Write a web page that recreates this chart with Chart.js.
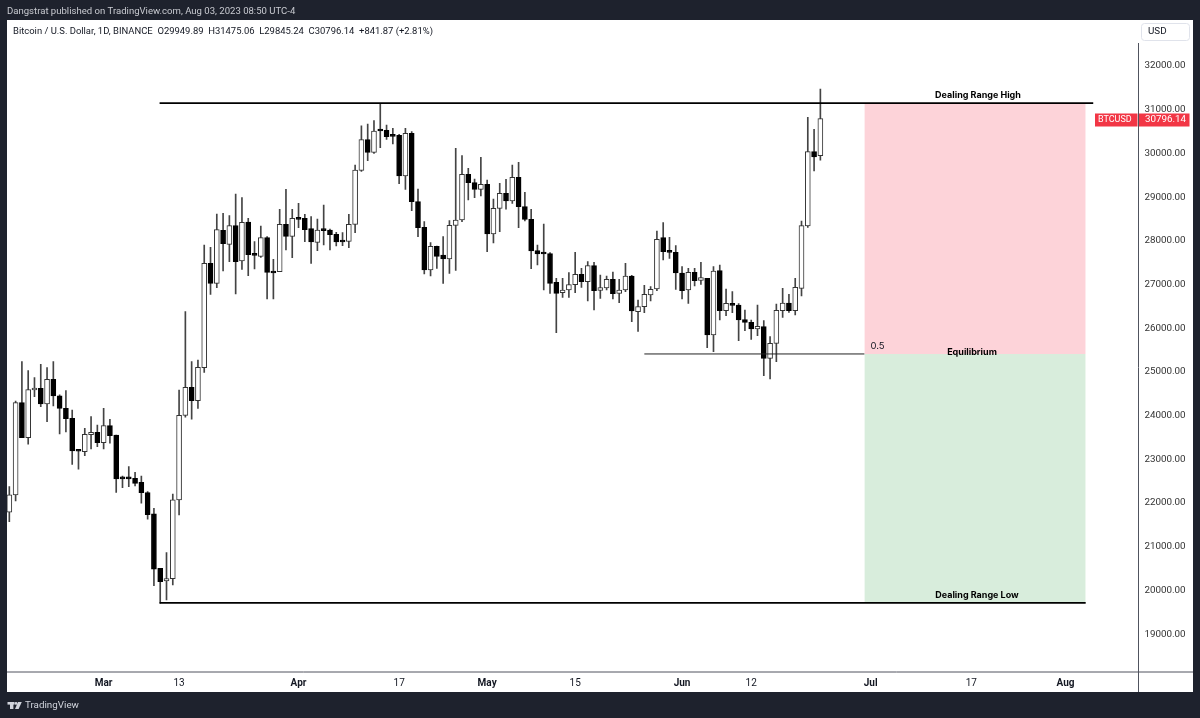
<!DOCTYPE html>
<html lang="en">
<head>
<meta charset="UTF-8">
<title>Bitcoin / U.S. Dollar</title>
<script src="https://cdn.jsdelivr.net/npm/chart.js"></script>
<style>
    html, body { margin: 0; padding: 0; background: #1e222d; }
    canvas { display: block; }
</style>
</head>
<body>
<canvas id="chart" width="1200" height="718"></canvas>
<script>
// daily candles, Feb 14 to Jun 23 2023
const opens = [21788,22185,24297,23496,24587,24625,24267,24831,24450,24167,23939,23206,23176,23565,23618,23382,23771,23557,22566,22566,
    22566,22474,22238,21750,20507,20217,20270,22070,24007,24648,24343,25097,27484,27027,28239,27919,28346,27538,28430,27690,
    27645,28072,27286,27294,28377,28102,28514,28514,28278,27965,28247,28247,28148,27995,27988,28377,29612,30314,30024,30528,
    30528,30406,30413,29483,30459,28895,28308,27332,27873,27675,27584,28354,28476,29521,29330,29178,29292,28156,28743,29086,
    28911,29452,28781,28491,27775,27713,27706,27050,26814,26875,26997,27233,27065,27431,26867,26920,27119,26798,26875,27195,
    26379,26493,26760,26897,28072,27752,27736,27263,26875,27279,27096,27141,25845,27317,26402,26554,26531,26196,26134,25982,
    26036,25311,25654,26402,26577,26402,26913,28339,30040,29949.89];
const highs = [22375,24335,25235,25029,24869,25174,25098,25235,24473,24572,24129,23229,23710,23977,23786,24167,23916,23557,22619,22833,
    22703,22619,22261,21879,20507,20865,22207,24587,26378,25235,25273,27904,27850,28613,28628,28575,29071,28987,28514,27980,
    28339,28095,27576,28720,29178,28720,28857,28606,28552,28499,28819,28270,28194,28186,28606,29734,30634,30672,30749,31145,
    30650,30573,30436,30573,30497,29185,28438,27957,27881,28095,28461,30116,29948,29658,29414,29910,29391,28956,29315,29406,
    29734,29795,29109,28720,27904,28385,27729,27141,27141,27271,27736,27370,27523,27508,27218,27195,27286,27119,27485,27210,
    26646,26981,26951,28225,28415,28080,27889,27408,27370,27370,27507,27141,27408,27446,26897,26836,26562,26417,26188,26531,
    26173,25807,26554,26913,26775,27141,28453,30825,30551,31475.06];
const lows = [21574,22047,23496,23344,24434,24206,23862,24221,23580,23626,22886,22772,23084,23237,23290,23237,23367,22245,22352,22375,
    22390,21994,21628,20110,19706,19782,20125,21727,23962,23916,24167,24990,26775,26928,27309,27523,26783,27347,27202,27355,
    27622,26668,26668,27294,27789,27614,28300,27980,27484,27774,27904,27789,27881,27889,27843,28186,29589,29833,30001,30131,
    30322,30215,29307,29178,28689,28095,27240,27194,27370,27027,27256,27324,28438,28934,28987,29025,27751,27950,28209,28727,
    28857,28300,28453,27362,27447,26875,26798,25898,26707,26707,26814,26935,26623,26417,26684,26875,26669,26585,26836,26150,
    25929,26356,26623,26859,27561,27599,26890,26669,26569,26966,27004,25555,25463,26188,26287,26356,25715,25944,25746,25829,
    24914,24838,25235,26249,26363,26303,26737,28308,29597,29845.24];
const closes = [22185,24297,23496,24595,24625,24267,24831,24450,24167,23931,23191,23184,23573,23618,23382,23771,23542,22551,22551,22551,
    22451,22238,21734,20484,20201,20270,22070,24007,24648,24343,25106,27484,27027,28255,27934,28346,27523,28423,27683,27667,
    28072,27278,27263,28377,28102,28514,28491,28255,27972,28247,28232,28140,27972,27972,28377,29620,30314,30024,30512,30512,
    30383,30390,29483,30459,28895,28300,27332,27873,27644,27584,28354,28476,29521,29330,29178,29292,28156,28743,29086,28911,
    29452,28781,28491,27767,27698,27698,27027,26798,26875,26997,27233,27065,27431,26859,26928,27119,26791,26875,27195,26394,
    26493,26775,26890,28034,27752,27736,27263,26859,27279,27088,27157,25845,27309,26402,26569,26524,26188,26134,25982,26043,
    25311,25654,26409,26577,26402,26935,28346,30040,29918,30796.14];

const firstCandleDay = -15;   // days relative to Mar 1

const priceTicks = [19000,20000,21000,22000,23000,24000,25000,26000,27000,28000,29000,30000,31000,32000];
const timeTickDays = [0,12,31,47,61,75,92,103,122,138,153];
const timeTickLabels = ['Mar','13','Apr','17','May','15','Jun','12','Jul','17','Aug'];
const boldTimeTicks = ['Mar','Apr','May','Jun','Jul','Aug'];

const rangeHigh = 31153;
const rangeMid = 25411;
const rangeLow = 19713;
const rangeStartDay = 8.9;
const midStartDay = 86;
const boxStartDay = 121;
const boxEndDay = 156.2;
const highEndDay = 157.4;
const lastPrice = closes[closes.length - 1];

const UP_FILL = '#ffffff';
const DOWN_FILL = '#000000';
const FONT = 'Roboto, "Liberation Sans", sans-serif';
const LABEL_FONT = 'Inter, "Liberation Sans", sans-serif';

const wicks = highs.map((h, i) => ({ x: firstCandleDay + i, y: [lows[i], h] }));
const bodies = opens.map((o, i) => ({ x: firstCandleDay + i, y: [o, closes[i]] }));
const bodyColors = opens.map((o, i) => closes[i] >= o ? UP_FILL : DOWN_FILL);
const bodyEdges = opens.map((o, i) => closes[i] >= o ? '#333333' : DOWN_FILL);

function levelLine(startDay, endDay, price, extra) {
    return Object.assign({
        type: 'line',
        data: [{ x: startDay, y: price }, { x: endDay, y: price }],
        pointRadius: 0,
        borderColor: '#000000',
        borderWidth: 1.8
    }, extra);
}

// panel, axis lines and all the text that is not a tick label
const frame = {
    id: 'frame',
    beforeDraw(chart) {
        const c = chart.ctx;
        c.save();
        c.fillStyle = '#ffffff';
        c.fillRect(7, 20, 1186, 672);
        c.restore();
    },
    afterDraw(chart) {
        const c = chart.ctx, x = chart.scales.x, y = chart.scales.y;
        const axisX = chart.chartArea.right;
        c.save();

        c.strokeStyle = '#50535e';
        c.lineWidth = 1;
        c.beginPath();
        c.moveTo(axisX, 43); c.lineTo(axisX, 692);
        c.moveTo(7, 672); c.lineTo(1193, 672);
        c.stroke();

        c.textBaseline = 'middle';
        c.textAlign = 'left';
        c.fillStyle = '#c9cbd1';
        c.font = '9.55px ' + FONT;
        c.fillText('Dangstrat published on TradingView.com, Aug 03, 2023 08:50 UTC-4', 7, 11.5);

        c.fillStyle = '#131722';
        c.font = '9.45px ' + FONT;
        c.fillText('Bitcoin / U.S. Dollar, 1D, BINANCE  O29949.89  H31475.06  L29845.24  C30796.14  +841.87 (+2.81%)', 13, 31.5);

        // USD button
        c.strokeStyle = '#e0e3eb';
        c.beginPath();
        c.roundRect(1141.5, 23.5, 48, 17, 3);
        c.stroke();
        c.fillStyle = '#131722';
        c.font = '9.8px ' + FONT;
        c.fillText('USD', 1148, 32);

        // range labels
        c.fillStyle = '#000000';
        c.textAlign = 'center';
        c.font = 'bold 9px ' + LABEL_FONT;
        c.fillText('Dealing Range High', 978, y.getPixelForValue(rangeHigh) - 8);
        c.fillText('Equilibrium', 972, y.getPixelForValue(rangeMid) - 2);
        c.fillText('Dealing Range Low', 977, y.getPixelForValue(rangeLow) - 8);
        c.textAlign = 'left';
        c.font = '9.5px ' + LABEL_FONT;
        c.fillStyle = '#131722';
        c.fillText('0.5', x.getPixelForValue(boxStartDay) + 6, y.getPixelForValue(rangeMid) - 8);

        // last price tags
        const lastY = 120;
        c.fillStyle = '#f23645';
        c.fillRect(1095, lastY - 6.5, 42.5, 13);
        c.fillRect(1139, lastY - 6.5, 50.5, 13);
        c.fillStyle = '#ffffff';
        c.font = '9px ' + FONT;
        c.textAlign = 'left';
        c.fillText('BTCUSD', 1098, lastY);
        c.font = '9.8px ' + FONT;
        c.fillText(lastPrice.toFixed(2), 1145, lastY);

        // footer logo and name
        c.fillStyle = '#d1d4dc';
        c.fillRect(7.5, 702, 7, 2.6);
        c.fillRect(10, 702, 3.4, 7);
        c.beginPath();
        c.arc(16, 703.4, 1.4, 0, Math.PI * 2);
        c.fill();
        c.beginPath();
        c.moveTo(18, 702); c.lineTo(21.8, 702); c.lineTo(18.6, 709); c.lineTo(15, 709);
        c.closePath();
        c.fill();
        c.font = '9.8px ' + FONT;
        c.fillText('TradingView', 25, 706);

        c.restore();
    }
};

new Chart(document.getElementById('chart'), {
    type: 'bar',
    data: {
        datasets: [
            levelLine(boxStartDay, boxEndDay, rangeHigh, { borderWidth: 0, fill: { value: rangeMid }, backgroundColor: '#fdd3d9', order: 9 }),
            levelLine(boxStartDay, boxEndDay, rangeLow, { borderWidth: 0, fill: { value: rangeMid }, backgroundColor: '#d8eddc', order: 9 }),
            { data: wicks, backgroundColor: '#444444', barThickness: 1, grouped: false, order: 5 },
            {
                data: bodies,
                backgroundColor: bodyColors,
                borderColor: bodyEdges,
                borderWidth: 1,
                borderSkipped: false,
                barThickness: 5,
                minBarLength: 2,
                grouped: false,
                order: 4
            },
            levelLine(rangeStartDay, highEndDay, rangeHigh, { order: 2 }),
            levelLine(midStartDay, boxStartDay, rangeMid, { borderWidth: 1, borderColor: '#222222', order: 2 }),
            levelLine(rangeStartDay, boxEndDay, rangeLow, { order: 2 })
        ]
    },
    options: {
        responsive: false,
        animation: false,
        layout: { padding: { left: 7, right: 7, top: 20, bottom: 26 } },
        plugins: { legend: { display: false }, tooltip: { enabled: false } },
        scales: {
            x: {
                type: 'linear',
                offset: false,
                min: -15.37,
                max: 164.6,
                grid: { display: false, drawTicks: false },
                border: { display: false },
                afterBuildTicks: s => { s.ticks = timeTickDays.map(v => ({ value: v })); },
                afterFit: s => { s.height = 20; },
                ticks: {
                    autoSkip: false,
                    maxRotation: 0,
                    padding: 5,
                    color: '#131722',
                    font: ctx => {
                        const label = ctx.tick ? timeTickLabels[timeTickDays.indexOf(ctx.tick.value)] : '';
                        return { family: FONT, size: 10, weight: boldTimeTicks.includes(label) ? 'bold' : 'normal' };
                    },
                    callback: v => timeTickLabels[timeTickDays.indexOf(v)]
                }
            },
            y: {
                position: 'right',
                min: 18133,
                max: 33053,
                grid: { display: false, drawTicks: false },
                border: { display: false },
                afterBuildTicks: s => { s.ticks = priceTicks.map(v => ({ value: v })); },
                afterFit: s => { s.width = 54.5; },
                ticks: {
                    autoSkip: false,
                    padding: 6,
                    color: '#333333',
                    font: { family: FONT, size: 9.8 },
                    callback: v => v.toFixed(2)
                }
            }
        }
    },
    plugins: [frame]
});
</script>
</body>
</html>
